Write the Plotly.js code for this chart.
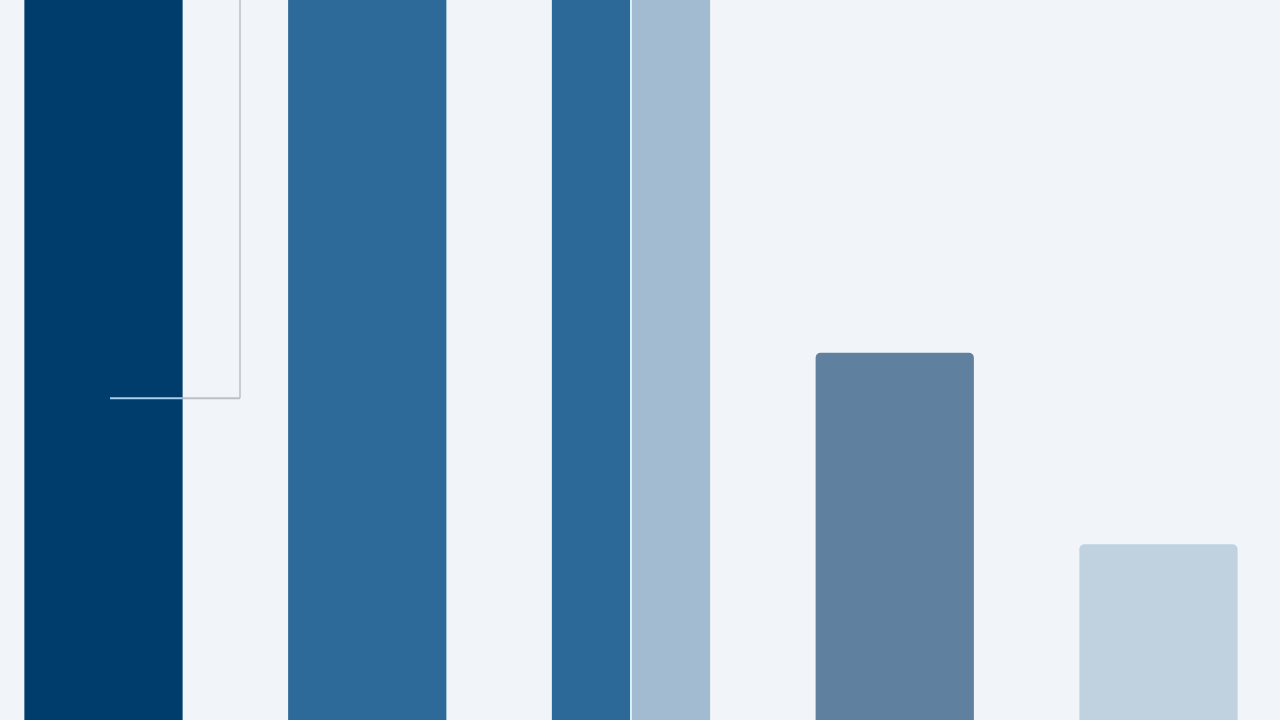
<!DOCTYPE html>
<html>
<head>
<meta charset="utf-8">
<script src="https://cdn.plot.ly/plotly-3.0.1.min.js"></script>
<style>
  html, body { margin: 0; padding: 0; background: #f1f5f9; }
  #chart { width: 1280px; height: 720px; }
</style>
</head>
<body>
<div id="chart"></div>
<script>
// Data
const categories = ["A", "B", "C", "D", "E"];
const mainValues = [130, 130, 130, 51, 24.4];
const mainColors = ["#003c6c", "#2d6a99", "#2c6898", "#5f819f", "#c0d2df"];
const splitCategory = ["C"];
const splitValues = [130];
const splitColors = ["#a3bbd0"];
const markerLevel = 44.7;

const traceMain = {
  type: "bar",
  x: categories,
  y: mainValues,
  width: [0.6, 0.6, 0.3, 0.6, 0.6],
  offset: [-0.3, -0.3, -0.3, -0.3, -0.3],
  marker: { color: mainColors, cornerradius: 5, line: { width: 0 } },
  hoverinfo: "skip"
};
const traceSplit = {
  type: "bar",
  x: splitCategory,
  y: splitValues,
  width: [0.3],
  offset: [0],
  marker: { color: splitColors, cornerradius: 5, line: { width: 0 } },
  hoverinfo: "skip"
};

const layout = {
  width: 1280,
  height: 720,
  margin: { l: 0, r: 0, t: 0, b: 0, pad: 0 },
  paper_bgcolor: "#f1f5f9",
  plot_bgcolor: "#f1f5f9",
  showlegend: false,
  barmode: "overlay",
  xaxis: { type: "category", range: [-0.3924, 4.4607], visible: false, fixedrange: true },
  yaxis: { range: [0, 100], visible: false, fixedrange: true },
  shapes: [
    { type: "line", xref: "x", yref: "y", x0: 0.0246, x1: 0.3, y0: markerLevel, y1: markerLevel,
      line: { color: "#a9cdec", width: 2 } },
    { type: "line", xref: "x", yref: "y", x0: 0.3, x1: 0.5175, y0: markerLevel, y1: markerLevel,
      line: { color: "#bcc0c4", width: 2 } },
    { type: "line", xref: "x", yref: "y", x0: 0.5175, x1: 0.5175, y0: markerLevel, y1: 110,
      line: { color: "#bcc0c4", width: 1.5 } },
    { type: "line", xref: "x", yref: "y", x0: 2.0, x1: 2.0, y0: 0, y1: 110,
      line: { color: "#d6f2f8", width: 2 } }
  ]
};

Plotly.newPlot("chart", [traceMain, traceSplit], layout, { staticPlot: true, displayModeBar: false });
</script>
</body>
</html>
